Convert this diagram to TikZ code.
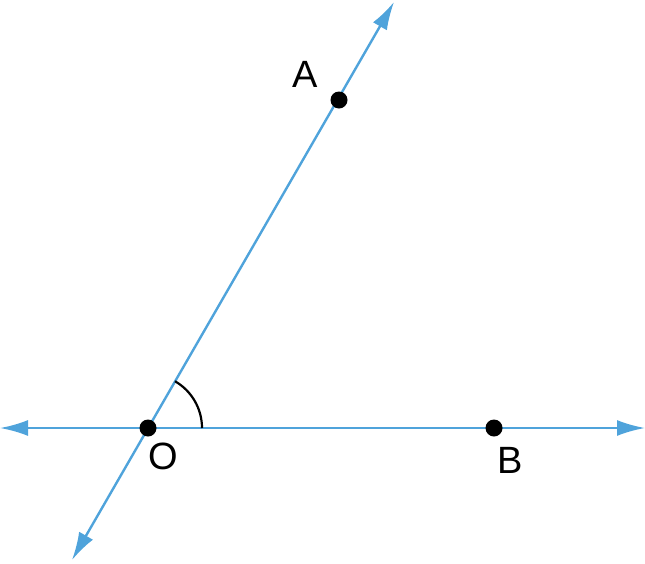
\documentclass[tikz,border=0pt]{standalone}
\usepackage{fontspec}
\setmainfont{Liberation Sans}
\usetikzlibrary{arrows.meta}
\definecolor{lineblue}{HTML}{4FA3DB}
\begin{document}
\begin{tikzpicture}[x=1pt,y=-1pt,
  ray/.style={draw=lineblue,line width=2.4pt,{Latex[length=28pt,width=16pt]}-{Latex[length=28pt,width=16pt]}},
  dot/.style={circle,fill=black,inner sep=0pt,minimum size=17pt},
  lbl/.style={font=\fontsize{38}{38}\selectfont,inner sep=0pt}]
\useasboundingbox (0,0) rectangle (645,563);
\coordinate (L) at (0,428);
\coordinate (R) at (645,428);
\coordinate (U) at (394,2);
\coordinate (D) at (72,560);
\coordinate (Ocoord) at (148,428);
\draw[ray] (L) -- (R);
\draw[ray] (D) -- (U);
\draw[black,line width=2.2pt] ([xshift=54pt]Ocoord) arc[start angle=0,end angle=60,radius=54pt];
\node[dot] (O) at (148,428) {};
\node[dot] (A) at (339,100) {};
\node[dot] (B) at (494,428) {};
\node[lbl] (tA) at (305,74) {A};
\node[lbl] (tO) at (163,456) {O};
\node[lbl] (tB) at (510,460) {B};
\end{tikzpicture}
\end{document}
